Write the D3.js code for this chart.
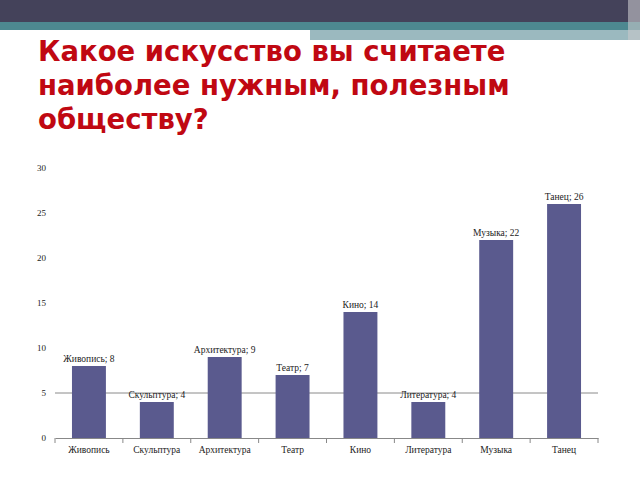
<!DOCTYPE html>
<html><head><meta charset="utf-8">
<script src="https://cdn.jsdelivr.net/npm/d3@7"></script>
<style>body{margin:0;background:#fff}</style></head>
<body><svg id="c" width="640" height="480"></svg>
<script>
const categories=["Живопись","Скульптура","Архитектура","Театр","Кино","Литература","Музыка","Танец"];
const values=[8,4,9,7,14,4,22,26];
const yTicks=[0,5,10,15,20,25,30];
const titleLines=["Какое искусство вы считаете","наиболее нужным, полезным","обществу?"];

const svg=d3.select("#c");
svg.append("rect").attr("x",0).attr("y",0).attr("width",640).attr("height",22).attr("fill","#44425a");
svg.append("rect").attr("x",0).attr("y",22).attr("width",640).attr("height",8).attr("fill","#4d8890");
svg.append("rect").attr("x",310).attr("y",30).attr("width",330).attr("height",10).attr("fill","#9bb9bf");
svg.append("rect").attr("x",628).attr("y",0).attr("width",12).attr("height",40).attr("fill","#c8c8cc").attr("opacity",0.6);

svg.selectAll("text.t").data(titleLines).join("text")
 .attr("x",38).attr("y",(d,i)=>61+i*34)
 .attr("font-family","DejaVu Sans, sans-serif").attr("font-weight","bold")
 .attr("font-size",27.5).attr("fill","#c00812").text(d=>d);

const x=d3.scaleBand().domain(categories).range([55,598]).paddingInner(0.5).paddingOuter(0.25);
const y=d3.scaleLinear().domain([0,30]).range([438,168]);
const font="Liberation Serif, Times New Roman, serif";

svg.append("line").attr("x1",55).attr("x2",598).attr("y1",y(5)).attr("y2",y(5)).attr("stroke","#8a8a8a");

svg.selectAll("rect.b").data(values).join("rect")
 .attr("x",(d,i)=>x(categories[i])).attr("width",x.bandwidth())
 .attr("y",d=>y(d)).attr("height",d=>y(0)-y(d)).attr("fill","#5a5a8e");

svg.selectAll("text.l").data(values).join("text")
 .attr("x",(d,i)=>x(categories[i])+x.bandwidth()/2).attr("y",d=>y(d)-4)
 .attr("text-anchor","middle").attr("font-family",font).attr("font-size",9.5).attr("fill","#222")
 .text((d,i)=>categories[i]+"; "+d);

const ax=svg.append("g").attr("transform","translate(0,438)")
 .call(d3.axisBottom(x).tickSize(0).tickPadding(8));
ax.select(".domain").attr("stroke","#888");
ax.selectAll("text").attr("font-family",font).attr("font-size",9.5).attr("fill","#222");
const step=x.step();
svg.selectAll("line.tk").data(d3.range(categories.length+1)).join("line")
 .attr("x1",i=>55+i*step).attr("x2",i=>55+i*step).attr("y1",438).attr("y2",443).attr("stroke","#888");

svg.selectAll("text.y").data(yTicks).join("text")
 .attr("x",46).attr("y",d=>y(d)+3).attr("text-anchor","end")
 .attr("font-family",font).attr("font-size",9).attr("fill","#222").text(d=>d);
</script></body></html>
